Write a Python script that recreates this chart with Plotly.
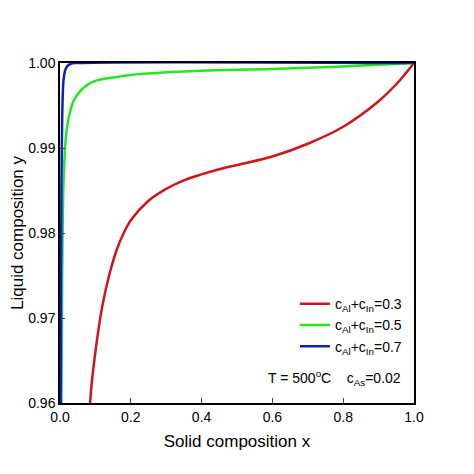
import plotly.graph_objects as go

x_red = [0.085, 0.09, 0.1, 0.11, 0.12, 0.14, 0.16, 0.18, 0.2, 0.25, 0.3, 0.35, 0.4, 0.45, 0.5, 0.6, 0.7, 0.8, 0.9, 0.95, 1.0]
y_red = [0.96, 0.9625, 0.966, 0.969, 0.9715, 0.9752, 0.978, 0.9800, 0.9815, 0.9838, 0.9852, 0.9862, 0.9869, 0.9875, 0.9880, 0.9890, 0.9905, 0.9925, 0.9955, 0.9975, 1.0]
x_green = [0.004, 0.006, 0.008, 0.01, 0.015, 0.02, 0.03, 0.04, 0.06, 0.08, 0.1, 0.15, 0.2, 0.3, 0.4, 0.6, 0.8, 1.0]
y_green = [0.96, 0.975, 0.982, 0.986, 0.9905, 0.9925, 0.9945, 0.9957, 0.9968, 0.9975, 0.9979, 0.9983, 0.9986, 0.9989, 0.9991, 0.9993, 0.9996, 1.0]
x_blue = [0.002, 0.003, 0.004, 0.006, 0.008, 0.01, 0.015, 0.02, 0.03, 0.05, 1.0]
y_blue = [0.96, 0.975, 0.985, 0.993, 0.9965, 0.998, 0.9992, 0.9996, 0.9999, 1.0, 1.0]
names = ["c<sub>Al</sub>+c<sub>In</sub>=0.3", "c<sub>Al</sub>+c<sub>In</sub>=0.5", "c<sub>Al</sub>+c<sub>In</sub>=0.7"]
colors = ["#d0141a", "#22e822", "#1020c0"]

fig = go.Figure()
for xs, ys, n, c in zip([x_red, x_green, x_blue], [y_red, y_green, y_blue], names, colors):
    fig.add_trace(go.Scatter(x=xs, y=ys, mode="lines", name=n, line=dict(color=c, width=2.5, shape="spline")))

ax = dict(showline=True, linecolor="black", linewidth=1.5, mirror=True, ticks="inside",
          ticklen=5, showgrid=False, zeroline=False, automargin=False,
          tickfont=dict(size=14, color="black"), title_font=dict(size=17, color="black"))
fig.update_xaxes(range=[0, 1], dtick=0.2, tickformat=".1f", title_text="Solid composition x",
                 title_standoff=12, **ax)
fig.update_yaxes(range=[0.96, 1.0], dtick=0.01, tickformat=".2f", title_text="Liquid composition y",
                 title_standoff=10, **ax)
fig.add_annotation(x=0.97, y=0.9615, xref="x", yref="y", xanchor="right", yanchor="bottom", showarrow=False,
                   text="T = 500<sup>o</sup>C    c<sub>As</sub>=0.02", font=dict(size=14, color="black"))
fig.update_layout(width=474, height=474, plot_bgcolor="white", paper_bgcolor="white",
                  font=dict(family="Liberation Sans"),
                  margin=dict(l=52, r=68, t=55, b=79),
                  legend=dict(x=0.98, y=0.12, xanchor="right", yanchor="bottom", bgcolor="rgba(0,0,0,0)",
                              font=dict(size=14, color="black")))
fig.write_html("out.html")
